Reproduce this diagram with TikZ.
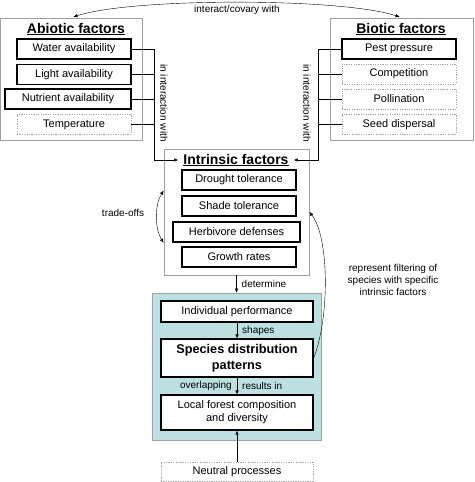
\documentclass[tikz,border=0pt]{standalone}
\usepackage{fontspec}
\setmainfont{Liberation Sans}
\usetikzlibrary{arrows.meta}
\definecolor{poolblue}{RGB}{189,224,226}
\tikzset{factor/.style={draw,fill=white,line width=1.3pt,minimum width=114pt,minimum height=20pt,inner sep=0pt,font=\fontsize{11}{13.3}\selectfont,align=center},
         weakfactor/.style={factor,draw=gray!70,line width=0.6pt,dash pattern=on 1.2pt off 1.2pt},
         groupbox/.style={draw=gray!75,line width=0.8pt,inner sep=0pt},
         heading/.style={font=\fontsize{14}{16}\selectfont\bfseries,inner sep=5pt},
         note/.style={font=\fontsize{10}{11.7}\selectfont,align=center,inner sep=2pt}}

\begin{document}
\begin{tikzpicture}[x=1pt,y=-1pt,>={Latex[length=4pt,width=3.5pt]}]
        \useasboundingbox (0,0) rectangle (474,482);

        % the four groups
        \node[groupbox, minimum width=142pt, minimum height=122pt](abiotic)at(71.5,79){};
        \node[groupbox, minimum width=143pt, minimum height=122pt](biotic)at(401.5,79){};
        \node[groupbox, minimum width=145pt, minimum height=126pt](intr)at(236.5,212){};
        \node[groupbox, fill=poolblue, minimum width=169pt, minimum height=147pt](pool)at(236.5,366.5){};

        \node[heading](atitle)at(76,29){\underline{Abiotic factors}};
        \node[factor](water)at(74,49){Water availability};
        \node[factor](light)at(74,74.5){Light availability};
        \node[factor, minimum width=126pt](nutrient)at(68,99){Nutrient availability};
        \node[weakfactor](temp)at(74,124.5){Temperature};

        \node[heading](btitle)at(401,29){\underline{Biotic factors}};
        \node[factor](pest)at(399,49){Pest pressure};
        \node[weakfactor](compet)at(399,74){Competition};
        \node[weakfactor](pollin)at(399,99){Pollination};
        \node[weakfactor](seed)at(399,124.5){Seed dispersal};

        \node[heading](ititle)at(236,160){\underline{Intrinsic factors}};
        \node[factor](drought)at(239,180){Drought tolerance};
        \node[factor](shade)at(239,206){Shade tolerance};
        \node[factor, minimum width=127pt](herb)at(236.5,232){Herbivore defenses};
        \node[factor](growth)at(239,257){Growth rates};

        \node[factor, minimum width=152pt, minimum height=21pt](indiv)at(237,311.5){Individual performance};
        \node[factor, minimum width=152pt, minimum height=38pt, font=\fontsize{12.7}{16}\selectfont\bfseries](spd)at(237,358){Species distribution\\patterns};
        \node[factor, minimum width=152pt, minimum height=35pt](local)at(237,412.5){Local forest composition\\and diversity};
        \node[weakfactor, minimum width=152pt, minimum height=19pt](neutral)at(237,471.5){Neutral processes};

        % buses into the intrinsic factors
        \coordinate(abus)at(154,0);
        \coordinate(bbus)at(318,0);
        \draw[->](water.east)--(water.east-|abus)|-(ititle.west);
        \draw(light.east)--(light.east-|abus);
        \draw(nutrient.east)--(nutrient.east-|abus);
        \draw(temp.east)--(temp.east-|abus);
        \draw[->](pest.west)--(pest.west-|bbus)|-(ititle.east);
        \draw(compet.west)--(compet.west-|bbus);
        \draw(pollin.west)--(pollin.west-|bbus);
        \draw(seed.west)--(seed.west-|bbus);
        \node[note, rotate=-90]at(164,103){in interaction with};
        \node[note, rotate=-90]at(307,103){in interaction with};

        \draw[<->, shorten <=2pt, shorten >=2pt](abiotic.north) .. controls +(60,-20) and +(-60,-20) .. (biotic.north);
        \node[note]at(237,10){interact/covary with};

        \draw[<->](intr.west|-drought.south) .. controls +(-9,14) and +(-9,-14) .. (intr.west|-herb.south);
        \node[note]at(123,213){trade-offs};

        \draw[->](intr.south)--(pool.north) node[note, midway, right, inner sep=5pt]{determine};
        \draw[->](indiv.south)--(spd.north) node[note, midway, right, inner sep=5pt]{shapes};
        \draw[->](spd.south)--(local.north) node[note, midway, right, inner sep=5pt]{results in} node[note, midway, left, inner sep=5pt]{overlapping};
        \draw[->](neutral.north)--(local.south);

        \draw[->](spd.east) .. controls +(16,-40) and +(20,25) .. (intr.east);
        \node[note]at(393,280){represent filtering of\\species with specific\\intrinsic factors};
    \end{tikzpicture}
\end{document}
